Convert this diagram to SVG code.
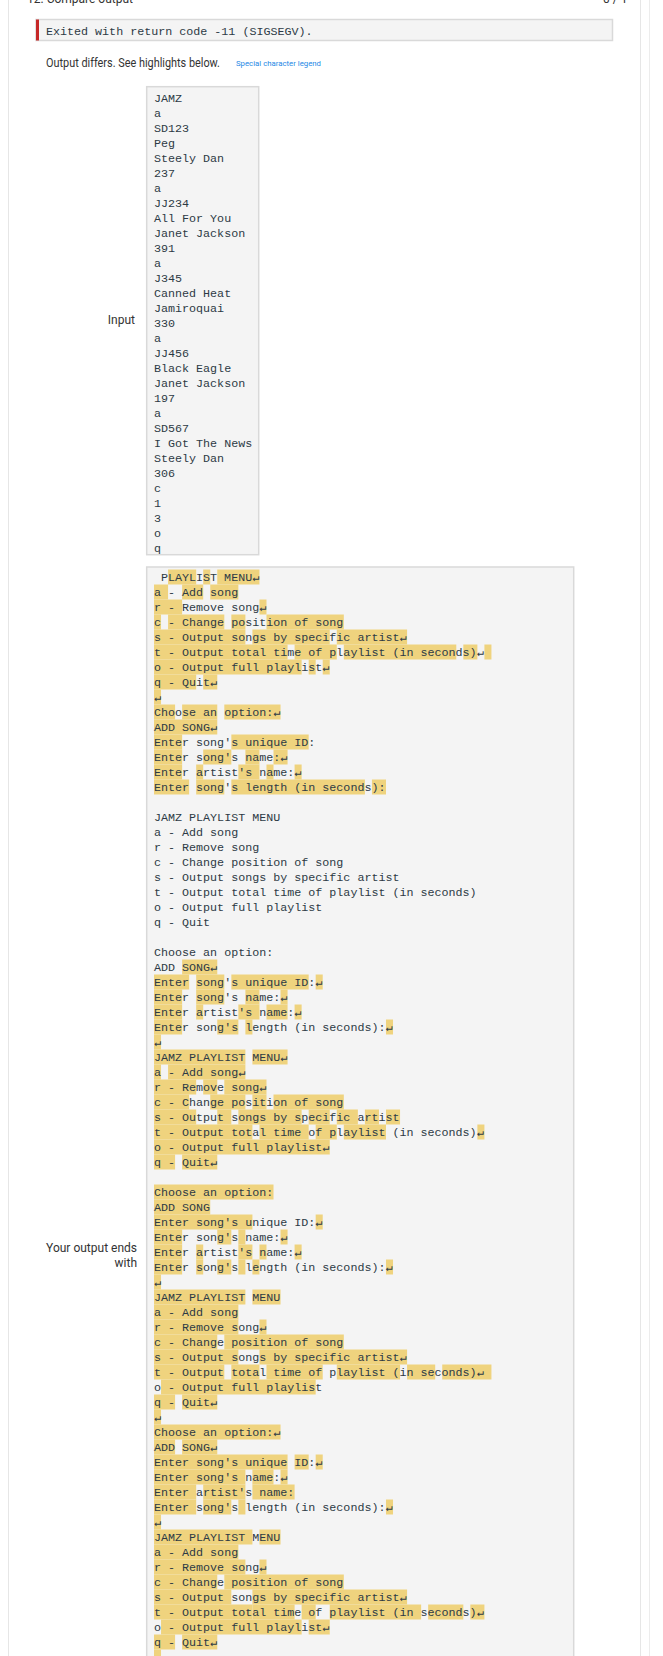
<svg xmlns="http://www.w3.org/2000/svg" width="663" height="1656" viewBox="0 0 663 1656">
<style>
.m{font-family:"Liberation Mono","DejaVu Sans Mono",monospace;font-size:11.7px;fill:#2d3a45}
.s{font-family:Roboto,"Liberation Sans",sans-serif;font-size:12px;fill:#333}
.box{fill:#f4f4f4;stroke:#d9d9d9;stroke-width:1.5}
.h{fill:#efd37e}
</style>
<rect width="663" height="1656" fill="#fff"/>
<g id="card">
<line x1="8.5" y1="0" x2="8.5" y2="1656" stroke="#e6e6e6"/>
<line x1="640.5" y1="0" x2="640.5" y2="1656" stroke="#e6e6e6"/>
<line x1="649.5" y1="0" x2="649.5" y2="1656" stroke="#ececec"/>
<text x="27" y="3" class="s" fill="#555">12. Compare output ^</text>
<text x="603" y="3" class="s">0 / 1</text>
</g>
<g id="error">
<rect x="36" y="19.5" width="576.5" height="21" class="box"/>
<rect x="36" y="19.5" width="3" height="21" fill="#c62828"/>
<text x="46" y="34.5" class="m">Exited with return code -11 (SIGSEGV).</text>
</g>
<g id="msg">
<text x="46" y="67" class="s" textLength="174" lengthAdjust="spacingAndGlyphs">Output differs. See highlights below.</text>
<text x="236" y="66" font-family="Roboto,'Liberation Sans',sans-serif" font-size="7.5" fill="#1e88e5" textLength="85" lengthAdjust="spacingAndGlyphs">Special character legend</text>
</g>
<g id="input">
<text x="135" y="324" class="s" text-anchor="end">Input</text>
<rect x="146.7" y="86.7" width="112" height="468" class="box"/>
<g class="m">
<text x="154" y="101.5">JAMZ</text><text x="154" y="116.5">a</text><text x="154" y="131.5">SD123</text><text x="154" y="146.5">Peg</text><text x="154" y="161.5">Steely Dan</text><text x="154" y="176.5">237</text><text x="154" y="191.5">a</text><text x="154" y="206.5">JJ234</text><text x="154" y="221.5">All For You</text><text x="154" y="236.5">Janet Jackson</text><text x="154" y="251.5">391</text><text x="154" y="266.5">a</text><text x="154" y="281.5">J345</text><text x="154" y="296.5">Canned Heat</text><text x="154" y="311.5">Jamiroquai</text><text x="154" y="326.5">330</text><text x="154" y="341.5">a</text><text x="154" y="356.5">JJ456</text><text x="154" y="371.5">Black Eagle</text><text x="154" y="386.5">Janet Jackson</text><text x="154" y="401.5">197</text><text x="154" y="416.5">a</text><text x="154" y="431.5">SD567</text><text x="154" y="446.5">I Got The News</text><text x="154" y="461.5">Steely Dan</text><text x="154" y="476.5">306</text><text x="154" y="491.5">c</text><text x="154" y="506.5">1</text><text x="154" y="521.5">3</text><text x="154" y="536.5">o</text><text x="154" y="551.5">q</text>
</g>
</g>
<g id="output">
<text x="137" y="1252" class="s" text-anchor="end">Your output ends</text>
<text x="137" y="1267" class="s" text-anchor="end">with</text>
<rect x="146.7" y="567" width="427" height="1100" class="box"/>
<g class="h" transform="translate(154,569.5) scale(7.03,15)">
<rect x="2" y="0" width="4" height="1"/><rect x="7" y="0" width="1" height="1"/><rect x="9" y="0" width="6" height="1"/>
<rect x="0" y="1" width="2" height="1"/><rect x="4" y="1" width="3" height="1"/><rect x="8" y="1" width="4" height="1"/>
<rect x="0" y="2" width="4" height="1"/><rect x="15" y="2" width="1" height="1"/>
<rect x="0" y="3" width="1" height="1"/><rect x="2" y="3" width="8" height="1"/><rect x="11" y="3" width="2" height="1"/><rect x="16" y="3" width="11" height="1"/>
<rect x="0" y="4" width="13" height="1"/><rect x="14" y="4" width="11" height="1"/><rect x="26" y="4" width="10" height="1"/>
<rect x="0" y="5" width="19" height="1"/><rect x="20" y="5" width="6" height="1"/><rect x="27" y="5" width="16" height="1"/><rect x="44" y="5" width="2" height="1"/><rect x="47" y="5" width="1" height="1"/>
<rect x="0" y="6" width="21" height="1"/><rect x="22" y="6" width="1" height="1"/><rect x="24" y="6" width="1" height="1"/>
<rect x="0" y="7" width="6" height="1"/><rect x="7" y="7" width="2" height="1"/>
<rect x="0" y="8" width="1" height="1"/>
<rect x="0" y="9" width="3" height="1"/><rect x="4" y="9" width="5" height="1"/><rect x="10" y="9" width="8" height="1"/>
<rect x="0" y="10" width="9" height="1"/>
<rect x="0" y="11" width="4" height="1"/><rect x="11" y="11" width="11" height="1"/>
<rect x="0" y="12" width="4" height="1"/><rect x="7" y="12" width="4" height="1"/><rect x="13" y="12" width="2" height="1"/><rect x="17" y="12" width="2" height="1"/>
<rect x="0" y="13" width="4" height="1"/><rect x="6" y="13" width="1" height="1"/><rect x="12" y="13" width="3" height="1"/><rect x="16" y="13" width="1" height="1"/><rect x="20" y="13" width="1" height="1"/>
<rect x="0" y="14" width="5" height="1"/><rect x="6" y="14" width="4" height="1"/><rect x="11" y="14" width="19" height="1"/><rect x="31" y="14" width="2" height="1"/>
<rect x="4" y="26" width="5" height="1"/>
<rect x="0" y="27" width="5" height="1"/><rect x="6" y="27" width="4" height="1"/><rect x="11" y="27" width="11" height="1"/><rect x="23" y="27" width="1" height="1"/>
<rect x="0" y="28" width="4" height="1"/><rect x="6" y="28" width="4" height="1"/><rect x="13" y="28" width="2" height="1"/><rect x="18" y="28" width="1" height="1"/>
<rect x="0" y="29" width="4" height="1"/><rect x="6" y="29" width="1" height="1"/><rect x="12" y="29" width="3" height="1"/><rect x="16" y="29" width="3" height="1"/><rect x="20" y="29" width="1" height="1"/>
<rect x="0" y="30" width="4" height="1"/><rect x="9" y="30" width="3" height="1"/><rect x="13" y="30" width="1" height="1"/><rect x="33" y="30" width="1" height="1"/>
<rect x="0" y="31" width="1" height="1"/>
<rect x="0" y="32" width="13" height="1"/><rect x="14" y="32" width="5" height="1"/>
<rect x="0" y="33" width="1" height="1"/><rect x="2" y="33" width="11" height="1"/>
<rect x="0" y="34" width="6" height="1"/><rect x="7" y="34" width="2" height="1"/><rect x="10" y="34" width="6" height="1"/>
<rect x="0" y="35" width="5" height="1"/><rect x="8" y="35" width="5" height="1"/><rect x="14" y="35" width="2" height="1"/><rect x="17" y="35" width="10" height="1"/>
<rect x="0" y="36" width="6" height="1"/><rect x="9" y="36" width="2" height="1"/><rect x="12" y="36" width="9" height="1"/><rect x="22" y="36" width="3" height="1"/><rect x="26" y="36" width="3" height="1"/><rect x="30" y="36" width="2" height="1"/><rect x="33" y="36" width="2" height="1"/>
<rect x="0" y="37" width="14" height="1"/><rect x="15" y="37" width="7" height="1"/><rect x="23" y="37" width="3" height="1"/><rect x="27" y="37" width="6" height="1"/><rect x="46" y="37" width="1" height="1"/>
<rect x="0" y="38" width="25" height="1"/>
<rect x="0" y="39" width="3" height="1"/><rect x="4" y="39" width="5" height="1"/>
<rect x="0" y="41" width="17" height="1"/>
<rect x="0" y="42" width="8" height="1"/>
<rect x="0" y="43" width="14" height="1"/><rect x="23" y="43" width="1" height="1"/>
<rect x="0" y="44" width="4" height="1"/><rect x="9" y="44" width="2" height="1"/><rect x="12" y="44" width="1" height="1"/><rect x="18" y="44" width="1" height="1"/>
<rect x="0" y="45" width="4" height="1"/><rect x="6" y="45" width="1" height="1"/><rect x="12" y="45" width="2" height="1"/><rect x="15" y="45" width="1" height="1"/><rect x="20" y="45" width="1" height="1"/>
<rect x="0" y="46" width="4" height="1"/><rect x="6" y="46" width="1" height="1"/><rect x="9" y="46" width="2" height="1"/><rect x="12" y="46" width="1" height="1"/><rect x="14" y="46" width="1" height="1"/><rect x="33" y="46" width="1" height="1"/>
<rect x="0" y="47" width="1" height="1"/>
<rect x="0" y="48" width="13" height="1"/><rect x="14" y="48" width="4" height="1"/>
<rect x="0" y="49" width="12" height="1"/>
<rect x="0" y="50" width="12" height="1"/><rect x="15" y="50" width="1" height="1"/>
<rect x="0" y="51" width="9" height="1"/><rect x="10" y="51" width="17" height="1"/>
<rect x="0" y="52" width="12" height="1"/><rect x="15" y="52" width="21" height="1"/>
<rect x="0" y="53" width="10" height="1"/><rect x="11" y="53" width="4" height="1"/><rect x="16" y="53" width="8" height="1"/><rect x="26" y="53" width="9" height="1"/><rect x="36" y="53" width="4" height="1"/><rect x="41" y="53" width="7" height="1"/>
<rect x="1" y="54" width="22" height="1"/>
<rect x="0" y="55" width="3" height="1"/><rect x="4" y="55" width="5" height="1"/>
<rect x="0" y="56" width="1" height="1"/>
<rect x="0" y="57" width="18" height="1"/>
<rect x="0" y="58" width="3" height="1"/><rect x="4" y="58" width="5" height="1"/>
<rect x="0" y="59" width="19" height="1"/><rect x="20" y="59" width="2" height="1"/><rect x="23" y="59" width="1" height="1"/>
<rect x="0" y="60" width="13" height="1"/><rect x="14" y="60" width="3" height="1"/><rect x="18" y="60" width="1" height="1"/>
<rect x="0" y="61" width="6" height="1"/><rect x="7" y="61" width="6" height="1"/><rect x="14" y="61" width="6" height="1"/>
<rect x="0" y="62" width="6" height="1"/><rect x="7" y="62" width="4" height="1"/><rect x="12" y="62" width="1" height="1"/><rect x="33" y="62" width="1" height="1"/>
<rect x="0" y="63" width="1" height="1"/>
<rect x="0" y="64" width="14" height="1"/><rect x="15" y="64" width="3" height="1"/>
<rect x="0" y="65" width="12" height="1"/>
<rect x="0" y="66" width="13" height="1"/><rect x="15" y="66" width="1" height="1"/>
<rect x="0" y="67" width="9" height="1"/><rect x="10" y="67" width="17" height="1"/>
<rect x="0" y="68" width="11" height="1"/><rect x="14" y="68" width="22" height="1"/>
<rect x="0" y="69" width="14" height="1"/><rect x="14" y="69" width="6" height="1"/><rect x="21" y="69" width="2" height="1"/><rect x="25" y="69" width="13" height="1"/><rect x="39" y="69" width="5" height="1"/><rect x="45" y="69" width="2" height="1"/>
<rect x="1" y="70" width="20" height="1"/><rect x="22" y="70" width="3" height="1"/>
<rect x="0" y="71" width="3" height="1"/><rect x="4" y="71" width="5" height="1"/>
<rect x="0" y="72" width="1" height="1"/>
</g>
<g class="m">
<text x="161" y="581">PLAYLIST MENU↵</text>
<text x="154" y="596">a - Add song</text>
<text x="154" y="611">r - Remove song↵</text>
<text x="154" y="626">c - Change position of song</text>
<text x="154" y="641">s - Output songs by specific artist↵</text>
<text x="154" y="656">t - Output total time of playlist (in seconds)↵</text>
<text x="154" y="671">o - Output full playlist↵</text>
<text x="154" y="686">q - Quit↵</text>
<text x="154" y="701">↵</text>
<text x="154" y="716">Choose an option:↵</text>
<text x="154" y="731">ADD SONG↵</text>
<text x="154" y="746">Enter song's unique ID:</text>
<text x="154" y="761">Enter song's name:↵</text>
<text x="154" y="776">Enter artist's name:↵</text>
<text x="154" y="791">Enter song's length (in seconds):</text>
<text x="154" y="821">JAMZ PLAYLIST MENU</text>
<text x="154" y="836">a - Add song</text>
<text x="154" y="851">r - Remove song</text>
<text x="154" y="866">c - Change position of song</text>
<text x="154" y="881">s - Output songs by specific artist</text>
<text x="154" y="896">t - Output total time of playlist (in seconds)</text>
<text x="154" y="911">o - Output full playlist</text>
<text x="154" y="926">q - Quit</text>
<text x="154" y="956">Choose an option:</text>
<text x="154" y="971">ADD SONG↵</text>
<text x="154" y="986">Enter song's unique ID:↵</text>
<text x="154" y="1001">Enter song's name:↵</text>
<text x="154" y="1016">Enter artist's name:↵</text>
<text x="154" y="1031">Enter song's length (in seconds):↵</text>
<text x="154" y="1046">↵</text>
<text x="154" y="1061">JAMZ PLAYLIST MENU↵</text>
<text x="154" y="1076">a - Add song↵</text>
<text x="154" y="1091">r - Remove song↵</text>
<text x="154" y="1106">c - Change position of song</text>
<text x="154" y="1121">s - Output songs by specific artist</text>
<text x="154" y="1136">t - Output total time of playlist (in seconds)↵</text>
<text x="154" y="1151">o - Output full playlist↵</text>
<text x="154" y="1166">q - Quit↵</text>
<text x="154" y="1196">Choose an option:</text>
<text x="154" y="1211">ADD SONG</text>
<text x="154" y="1226">Enter song's unique ID:↵</text>
<text x="154" y="1241">Enter song's name:↵</text>
<text x="154" y="1256">Enter artist's name:↵</text>
<text x="154" y="1271">Enter song's length (in seconds):↵</text>
<text x="154" y="1286">↵</text>
<text x="154" y="1301">JAMZ PLAYLIST MENU</text>
<text x="154" y="1316">a - Add song</text>
<text x="154" y="1331">r - Remove song↵</text>
<text x="154" y="1346">c - Change position of song</text>
<text x="154" y="1361">s - Output songs by specific artist↵</text>
<text x="154" y="1376">t - Output total time of playlist (in seconds)↵</text>
<text x="154" y="1391">o - Output full playlist</text>
<text x="154" y="1406">q - Quit↵</text>
<text x="154" y="1421">↵</text>
<text x="154" y="1436">Choose an option:↵</text>
<text x="154" y="1451">ADD SONG↵</text>
<text x="154" y="1466">Enter song's unique ID:↵</text>
<text x="154" y="1481">Enter song's name:↵</text>
<text x="154" y="1496">Enter artist's name:</text>
<text x="154" y="1511">Enter song's length (in seconds):↵</text>
<text x="154" y="1526">↵</text>
<text x="154" y="1541">JAMZ PLAYLIST MENU</text>
<text x="154" y="1556">a - Add song</text>
<text x="154" y="1571">r - Remove song↵</text>
<text x="154" y="1586">c - Change position of song</text>
<text x="154" y="1601">s - Output songs by specific artist↵</text>
<text x="154" y="1616">t - Output total time of playlist (in seconds)↵</text>
<text x="154" y="1631">o - Output full playlist↵</text>
<text x="154" y="1646">q - Quit↵</text>
<text x="154" y="1661">↵</text>
</g>
</g>
</svg>
